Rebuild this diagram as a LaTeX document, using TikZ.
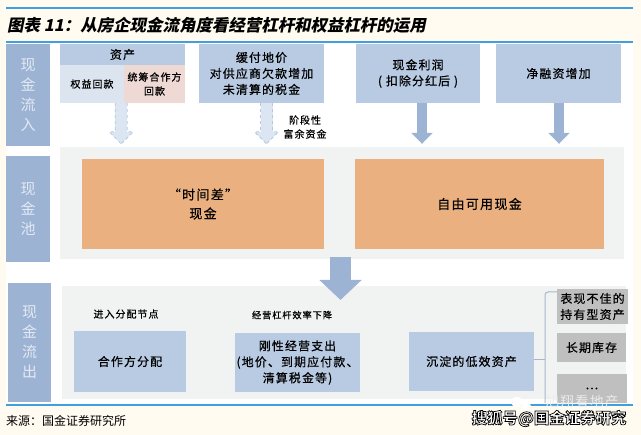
\documentclass[tikz,border=0pt]{standalone}
\usepackage{fontspec}
\usepackage{xcolor}
\usetikzlibrary{arrows.meta}
\setmainfont[ItalicFeatures={FakeSlant=0.2},BoldItalicFeatures={FakeSlant=0.2}]{Noto Sans CJK SC}
\newfontfamily\wide[LetterSpace=10,FakeBold=0.6]{Noto Sans CJK SC}
\newfontfamily\widethin[LetterSpace=10]{Noto Sans CJK SC}
\lineskiplimit=-20pt
\definecolor{cream}{HTML}{FFFBF0}
\definecolor{rule}{HTML}{3F9FE0}
\definecolor{side}{HTML}{9DB3D4}
\definecolor{sidetext}{HTML}{E3E9F3}
\definecolor{boxblue}{HTML}{B9CBE3}
\definecolor{boxpale}{HTML}{DCE4F0}
\definecolor{boxpink}{HTML}{EFD9D5}
\definecolor{boxorange}{HTML}{EBB07F}
\definecolor{pool}{HTML}{F1F2F2}
\definecolor{boxgrey}{HTML}{BFBFBF}
\definecolor{softfill}{HTML}{DCE6F2}
\definecolor{softdash}{HTML}{B4C8E2}
\tikzset{
    base/.style = {inner sep=0pt, align=center, text=black, font=\wide\fontsize{11.9}{16}\selectfont},
    sidebox/.style = {base, fill=side, text=sidetext, font=\widethin\fontsize{15}{20}\selectfont},
    bluebox/.style = {base, fill=boxblue},
    greybox/.style = {base, fill=boxgrey, font=\wide\fontsize{11.9}{16}\selectfont},
    orangebox/.style = {base, fill=boxorange, font=\wide\fontsize{13}{19}\selectfont},
    note/.style = {base, font=\wide\fontsize{10}{14}\selectfont},
    fatarrow/.style = {draw=side, line width=10pt, shorten >=3pt, -{Triangle[width=21pt,length=11pt]}},
    softarrow/.style = {draw=softfill, line width=12pt, shorten >=3pt, -{Triangle[width=24pt,length=12pt]}},
    softline/.style = {draw=softdash, thick, dashed},
    rulerline/.style = {draw=rule, line width=1.4pt},
    brace/.style = {draw=boxblue!90!black, line width=1pt, rounded corners=3pt}
}
\begin{document}
\begin{tikzpicture}[x=1pt,y=-1pt]
\useasboundingbox (0,0) rectangle (641,435);
\fill[cream] (0,0) rectangle (641,435);
\fill[white] (6,43) rectangle (633,405);

\coordinate (r1) at (6,8);
\coordinate (r2) at (633,8);
\coordinate (r3) at (6,42);
\coordinate (r4) at (633,42);
\coordinate (r5) at (6,405);
\coordinate (r6) at (633,405);
\draw[rulerline] (r1) -- (r2);
\draw[rulerline] (r3) -- (r4);
\draw[rulerline] (r5) -- (r6);

\node[inner sep=0pt, anchor=west, font=\fontsize{16.45}{20}\bfseries\itshape\selectfont] (title) at (7,25) {图表 11：从房企现金流角度看经营杠杆和权益杠杆的运用};
\node[inner sep=0pt, anchor=west, font=\fontsize{12}{14}\selectfont] (source) at (6,421) {来源：国金证券研究所};

% background bands
\node[base, fill=pool, minimum width=564pt, minimum height=112pt] (pool) at (342,203) {};
\node[base, fill=pool, minimum width=564pt, minimum height=113pt] (outband) at (344,342.5) {};

% side labels
\node[sidebox, minimum width=44pt, minimum height=102pt] (sidein) at (28,95) {现\\金\\流\\入};
\node[sidebox, minimum width=44pt, minimum height=106pt] (sidepool) at (28,209) {现\\金\\池};
\node[sidebox, minimum width=43pt, minimum height=119pt] (sideout) at (29.5,342.5) {现\\金\\流\\出};

% inflow boxes
\node[bluebox, minimum width=125pt, minimum height=21pt] (assets) at (122.5,54.5) {资产};
\node[note, fill=boxpale, minimum width=64pt, minimum height=38pt] (equity) at (92,84) {权益回款};
\node[note, fill=boxpink, minimum width=61pt, minimum height=38pt] (partner) at (154.5,84) {统筹合作方\\回款};
\node[bluebox, minimum width=125pt, minimum height=59pt] (delay) at (261.5,73.5) {缓付地价\\对供应商欠款增加\\未清算的税金};
\node[bluebox, minimum width=124pt, minimum height=59pt] (profit) at (418,73.5) {现金利润\\( 扣除分红后 )};
\node[bluebox, minimum width=125pt, minimum height=59pt] (finance) at (558.5,73.5) {净融资增加};
\node[note] (surplus) at (305,127) {阶段性\\富余资金};

% cash pool boxes
\node[orangebox, minimum width=242pt, minimum height=90pt] (timegap) at (203,204) {“时间差”\\现金};
\node[orangebox, minimum width=249pt, minimum height=90pt] (freecash) at (479.5,204) {自由可用现金};

% outflow boxes
\node[note] (nodetext) at (126,314) {进入分配节点};
\node[note, font=\wide\fontsize{9.2}{13}\selectfont] (leverage) at (292,315) {经营杠杆效率下降};
\node[bluebox, minimum width=112pt, minimum height=61pt] (share) at (130,361.5) {合作方分配};
\node[bluebox, minimum width=125pt, minimum height=59pt] (rigid) at (297.5,362.5) {刚性经营支出\\(地价、到期应付款、\\清算税金等)};
\node[bluebox, minimum width=125pt, minimum height=59pt] (idle) at (471.5,361.5) {沉淀的低效资产};
\node[greybox, minimum width=71pt, minimum height=35pt] (holding) at (592.5,306.5) {表现不佳的\\持有型资产};
\node[greybox, minimum width=69pt, minimum height=29pt] (stock) at (591.5,347.5) {长期库存};
\node[greybox, minimum width=70pt, minimum height=29pt] (other) at (592,388.5) {...};

% arrows
\foreach \from/\shift in {equity.south east/-3, delay.south/5}{
    \coordinate (top) at ([xshift=\shift pt]\from);
    \coordinate (tip) at (top |- pool.north);
    \draw[softarrow] (top) -- (tip);
    \draw[softline] ([xshift=-6pt]top) -- ([xshift=-6pt,yshift=15pt]tip) -- ([xshift=-12pt,yshift=15pt]tip) -- ([yshift=3pt]tip);
    \draw[softline] ([xshift=6pt]top) -- ([xshift=6pt,yshift=15pt]tip) -- ([xshift=12pt,yshift=15pt]tip) -- ([yshift=3pt]tip);
}
\draw[fatarrow] ([xshift=4pt]profit.south) -- ([xshift=4pt]profit.south |- pool.north);
\draw[fatarrow] ([xshift=.5pt]finance.south) -- ([xshift=.5pt]finance.south |- pool.north);
\coordinate (bigtop) at (340.5,257);
\coordinate (bigtip) at (340.5,300);
\draw[draw=side, line width=21pt, -{Triangle[width=41pt,length=20pt]}] (bigtop) -- (bigtip);

% bracket
\coordinate (bracemid) at (545,360);
\coordinate (braceup) at (545,292);
\coordinate (bracedown) at (545,403);
\draw[brace] (idle.east |- bracemid) -- (bracemid);
\draw[brace] (holding.west |- braceup) -- (braceup) -- (bracedown);

% watermark
\fill[white] (517,402) ellipse (6pt and 5pt);
\fill[white] (526,406) ellipse (5pt and 4pt);
\node[inner sep=0pt, font=\widethin\fontsize{13.5}{15}\selectfont, text=white!85!gray] (mark) at (582,401) {旭翔看地产};
\node[inner sep=0pt, font=\fontsize{15.4}{18}\bfseries\selectfont] (sohu) at (549,418.5) {\special{pdf:code q 2 Tr 0.7 w 0 0 0 RG 1 1 1 rg}搜狐号@国金证券研究\special{pdf:code 0 Tr Q}};
\end{tikzpicture}
\end{document}
